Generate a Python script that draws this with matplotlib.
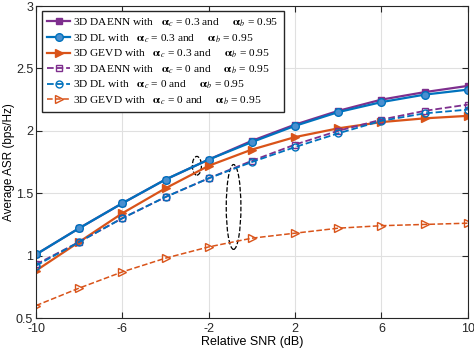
import numpy as np
import matplotlib
matplotlib.use('Agg')
import matplotlib.pyplot as plt
from matplotlib.patches import Ellipse

# data
snr = [-10, -8, -6, -4, -2, 0, 2, 4, 6, 8, 10]
daenn_03 = [1.01, 1.22, 1.42, 1.61, 1.77, 1.92, 2.05, 2.16, 2.25, 2.31, 2.36]
dl_03 = [1.01, 1.22, 1.42, 1.61, 1.77, 1.91, 2.04, 2.15, 2.23, 2.29, 2.33]
gevd_03 = [0.88, 1.11, 1.34, 1.54, 1.72, 1.85, 1.95, 2.02, 2.07, 2.10, 2.12]
daenn_0 = [0.93, 1.11, 1.30, 1.47, 1.62, 1.76, 1.89, 2.00, 2.09, 2.16, 2.21]
dl_0 = [0.92, 1.11, 1.30, 1.47, 1.62, 1.75, 1.87, 1.98, 2.08, 2.14, 2.17]
gevd_0 = [0.60, 0.74, 0.87, 0.98, 1.07, 1.14, 1.18, 1.22, 1.24, 1.25, 1.26]

labels = [
    r'3D DAENN with   $\mathbf{\alpha}_c$ = 0.3 and     $\mathbf{\alpha}_b$ = 0.95',
    r'3D DL with   $\mathbf{\alpha}_c$ = 0.3 and     $\mathbf{\alpha}_b$ = 0.95',
    r'3D GEVD with   $\mathbf{\alpha}_c$ = 0.3 and     $\mathbf{\alpha}_b$ = 0.95',
    r'3D DAENN with   $\mathbf{\alpha}_c$ = 0 and     $\mathbf{\alpha}_b$ = 0.95',
    r'3D DL with   $\mathbf{\alpha}_c$ = 0 and     $\mathbf{\alpha}_b$ = 0.95',
    r'3D GEVD with   $\mathbf{\alpha}_c$ = 0 and     $\mathbf{\alpha}_b$ = 0.95',
]

blue = '#0072BD'
orange = '#D95319'
purple = '#7E2F8E'

plt.rcParams['font.family'] = ['Liberation Sans', 'DejaVu Sans']
plt.rcParams['mathtext.fontset'] = 'stix'
plt.rcParams['axes.unicode_minus'] = False

fig = plt.figure(figsize=(4.74, 3.53), dpi=100)
ax = fig.add_axes([0.076, 0.099, 0.911, 0.884])

ax.plot(snr, daenn_03, '-s', color=purple, lw=1.6, ms=5, mfc=purple, label=labels[0])
ax.plot(snr, dl_03, '-o', color=blue, lw=1.6, ms=5.5, mfc='#4a8fd0', label=labels[1])
ax.plot(snr, gevd_03, '->', color=orange, lw=1.6, ms=6, mfc=orange, label=labels[2])
ax.plot(snr, daenn_0, '--s', color=purple, lw=1.3, ms=5, mfc='none', label=labels[3])
ax.plot(snr, dl_0, '--o', color=blue, lw=1.3, ms=5, mfc='none', label=labels[4])
ax.plot(snr, gevd_0, '-->', color=orange, lw=1.1, ms=6, mfc='none', label=labels[5])

# annotation ellipses
ax.add_patch(Ellipse((-2.55, 1.72), 0.42, 0.15, fill=False, ls='--', color='k', lw=0.9))
ax.add_patch(Ellipse((-0.85, 1.39), 0.68, 0.68, fill=False, ls='--', color='k', lw=0.9))

ax.set_xlim(-10, 10)
ax.set_ylim(0.5, 3)
ax.set_xticks([-10, -6, -2, 2, 6, 10])
ax.set_yticks([0.5, 1, 1.5, 2, 2.5, 3])
ax.set_yticklabels(['0.5', '1', '1.5', '2', '2.5', '3'])
ax.grid(True, color='#e0e0e0', lw=0.8)
ax.set_axisbelow(True)
ax.tick_params(direction='in', top=True, right=True, labelsize=9, colors='#262626', length=4)
ax.tick_params(axis='y', pad=2)
for s in ax.spines.values():
    s.set_color('#262626')
ax.set_xlabel('Relative SNR (dB)', fontsize=9, labelpad=1)
ax.set_ylabel('Average ASR (bps/Hz)', fontsize=8.5, labelpad=1)

leg = ax.legend(loc='upper left', bbox_to_anchor=(0.014, 0.983), prop={'family': 'Liberation Serif', 'size': 8.2},
                fancybox=False, edgecolor='#262626', framealpha=1, handlelength=2.0, labelspacing=0.27,
                borderpad=0.45, handletextpad=0.3, borderaxespad=0)
leg.get_frame().set_linewidth(1.0)

fig.savefig('out.png', dpi=100)
